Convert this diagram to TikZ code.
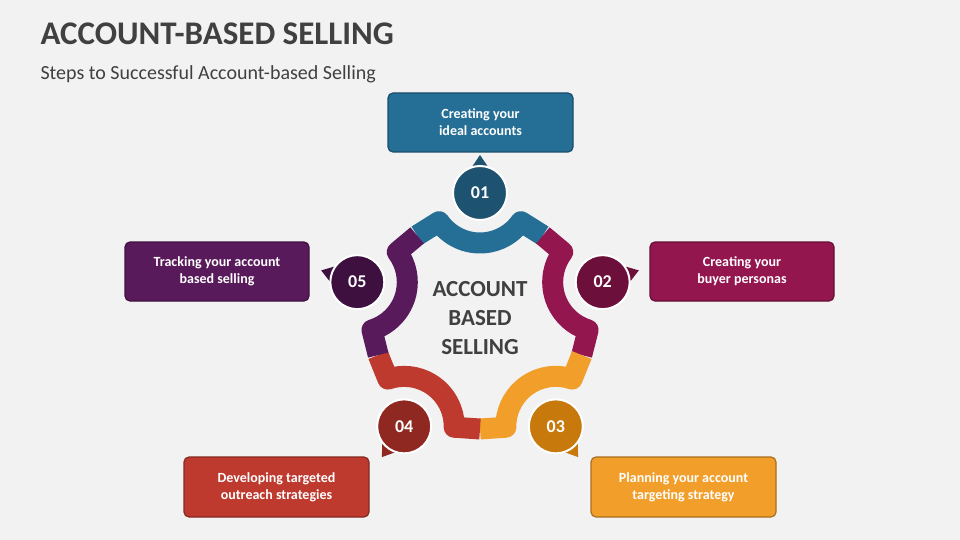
\documentclass[tikz,border=0pt]{standalone}
\usepackage{fontspec}
\usetikzlibrary{calc}
\setmainfont{Carlito}
\begin{document}
\begin{tikzpicture}[x=1pt,y=-1pt,
  box/.style={rounded corners=5pt,draw=#1!70!black,line width=1.2pt,fill=#1,text=white,font=\bfseries\fontsize{14}{17}\selectfont,align=center,inner sep=0pt},
  num/.style={circle,minimum size=54pt,inner sep=0pt,fill=#1,draw=white,line width=2pt,text=white,font=\bfseries\fontsize{18}{20}\selectfont},
  band/.style={draw=#1,line width=21pt,line join=round,line cap=butt}]
\definecolor{bg}{HTML}{F2F2F2}
\definecolor{tx}{HTML}{404040}
\definecolor{cA}{HTML}{256E96}\definecolor{dA}{HTML}{1D5370}
\definecolor{cB}{HTML}{93164F}\definecolor{dB}{HTML}{6D0F3B}
\definecolor{cC}{HTML}{F29E2A}\definecolor{dC}{HTML}{C7790C}
\definecolor{cD}{HTML}{BE3A2F}\definecolor{dD}{HTML}{8E2820}
\definecolor{cE}{HTML}{581A5A}\definecolor{dE}{HTML}{3E1040}
\fill[bg] (0,0) rectangle (960,540);
\useasboundingbox (0,0) rectangle (960,540);
\node[anchor=west,text=tx,font=\bfseries\fontsize{33}{36}\selectfont] (title) at (37,34) {ACCOUNT-BASED SELLING};
\node[anchor=west,text=tx,font=\fontsize{20}{24}\selectfont] (sub) at (37,74) {Steps to Successful Account-based Selling};
% ring
\begin{scope}[shift={(480,322)},yscale=-1]
\foreach \t/\c in {90/cA,18/cB,-54/cC,-126/cD,162/cE}{
  \draw[band=\c] (\t+36:107) -- ($(\t:129)+(\t+125:50)$) arc[start angle=\t+125,end angle=\t+235,radius=50] -- (\t-36:107);
}
\foreach \t/\c/\n [count=\i] in {90/dA/01,18/dB/02,-54/dC/03,-126/dD/04,162/dE/05}{
  \fill[\c] ($(\t:129)+(\t:38)$) -- ($(\t:129)+(\t+18:27)$) -- ($(\t:129)+(\t-18:27)$) -- cycle;
  \node[num=\c] (n\i) at (\t:129) {\n};
}
\end{scope}
\node[text=tx,font=\bfseries\fontsize{23}{29}\selectfont,align=center] (ctr) at (480,318) {ACCOUNT\\BASED\\SELLING};
\node[box=cA,minimum width=185pt,minimum height=59pt] (b1) at (480.5,122.5) {Creating your\\ideal accounts};
\node[box=cB,minimum width=184pt,minimum height=59pt] (b2) at (742,271.5) {Creating your\\buyer personas};
\node[box=cC,minimum width=185pt,minimum height=60pt] (b3) at (683.5,487) {Planning your account\\targeting strategy};
\node[box=cD,minimum width=185pt,minimum height=60pt] (b4) at (276.5,487) {Developing targeted\\outreach strategies};
\node[box=cE,minimum width=184pt,minimum height=59pt] (b5) at (217,271.5) {Tracking your account\\based selling};
\end{tikzpicture}
\end{document}
